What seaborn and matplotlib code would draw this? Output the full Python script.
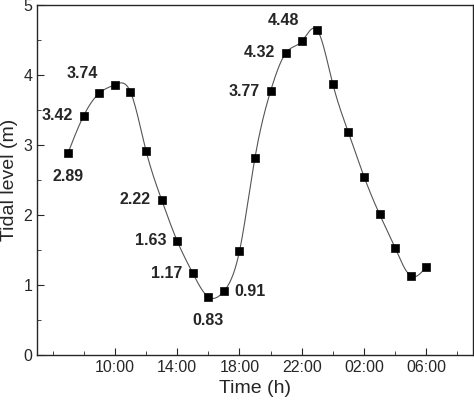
import numpy as np
import matplotlib
matplotlib.use("Agg")
import matplotlib.pyplot as plt
import seaborn as sns

hours = list(range(7, 31))
levels = [2.89, 3.42, 3.74, 3.86, 3.76, 2.92, 2.22, 1.63, 1.17, 0.83, 0.91, 1.48,
          2.82, 3.77, 4.32, 4.48, 4.64, 3.87, 3.18, 2.55, 2.01, 1.53, 1.13, 1.26]
tick_pos = [10, 14, 18, 22, 26, 30]
tick_labels = ["10:00", "14:00", "18:00", "22:00", "02:00", "06:00"]
# (hour, text, dx, dy) annotations
labels = [(7, "2.89", 0, -0.34), (8, "3.42", -1.7, 0), (9, "3.74", -1.1, 0.28),
          (13, "2.22", -1.7, 0), (14, "1.63", -1.7, 0), (15, "1.17", -1.7, 0),
          (16, "0.83", 0, -0.34), (17, "0.91", 1.7, 0), (20, "3.77", -1.7, 0),
          (21, "4.32", -1.7, 0), (22, "4.48", -1.2, 0.3)]

sns.set_style("ticks")
plt.rcParams['font.family'] = ['Liberation Sans', 'DejaVu Sans']

def spline(x, y, n=600):
    x = np.asarray(x, float); y = np.asarray(y, float)
    m = len(x); h = np.diff(x)
    A = np.zeros((m, m)); b = np.zeros(m)
    A[0, 0] = A[-1, -1] = 1
    for i in range(1, m - 1):
        A[i, i-1] = h[i-1]; A[i, i] = 2*(h[i-1]+h[i]); A[i, i+1] = h[i]
        b[i] = 3*((y[i+1]-y[i])/h[i] - (y[i]-y[i-1])/h[i-1])
    c = np.linalg.solve(A, b)
    xs = np.linspace(x[0], x[-1], n)
    idx = np.clip(np.searchsorted(x, xs) - 1, 0, m - 2)
    bb = (y[1:]-y[:-1])/h - h*(2*c[:-1]+c[1:])/3
    d = (c[1:]-c[:-1])/(3*h)
    t = xs - x[idx]
    return xs, y[idx] + bb[idx]*t + c[idx]*t**2 + d[idx]*t**3

fig = plt.figure(figsize=(4.74, 4.09), dpi=100)
ax = fig.add_axes([37/474, 54/409, 436/474, 350/409])
xs, ys = spline(hours, levels)
sns.lineplot(x=xs, y=ys, ax=ax, color="#555555", lw=0.8, sort=False)
sns.scatterplot(x=hours, y=levels, ax=ax, marker="s", color="black", s=36, edgecolor="black", zorder=3)
for hr, txt, dx, dy in labels:
    ax.text(hr + dx, levels[hours.index(hr)] + dy, txt, ha="center", va="center",
            fontsize=11.5, fontweight="bold")
ax.set_xlim(5, 33)
ax.set_ylim(0, 5)
ax.set_xticks(tick_pos)
ax.set_xticklabels(tick_labels)
ax.set_xticks(list(range(6, 33, 2)), minor=True)
ax.set_yticks([0, 1, 2, 3, 4, 5])
ax.set_yticks(np.arange(0.5, 5, 1.0), minor=True)
ax.tick_params(direction="in", labelsize=11.5, length=5)
ax.tick_params(which="minor", direction="in", length=3)
for s in ax.spines.values():
    s.set_linewidth(1.0)
ax.set_xlabel("Time (h)", fontsize=14)
ax.set_ylabel("Tidal level (m)", fontsize=14)
fig.savefig("out.png", dpi=100)
